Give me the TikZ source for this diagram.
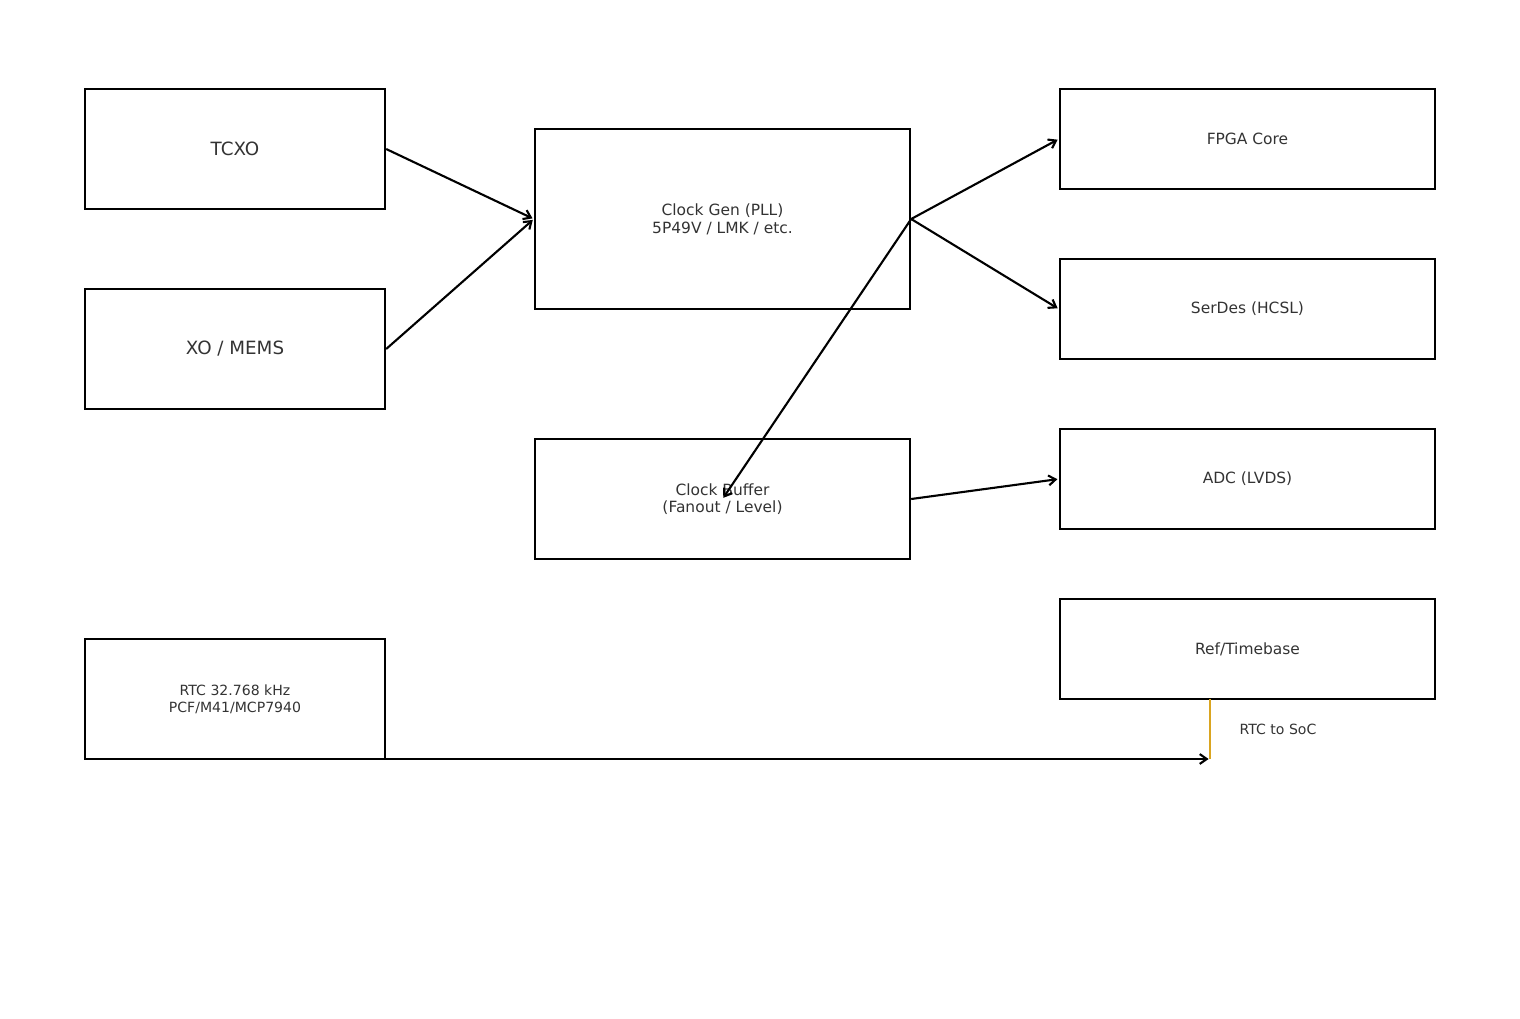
\documentclass[tikz,border=0pt]{standalone}
\usepackage{fontspec}
\setmainfont{DejaVu Sans}
\usepackage{tikz}
\usetikzlibrary{arrows.meta}
\definecolor{txt}{HTML}{333333}
\definecolor{tap}{HTML}{DAA520}

\begin{document}
\begin{tikzpicture}
  [x=0.025cm,y=-0.025cm,
   every node/.style={text=txt,align=center},
   blk/.style={draw=black,line width=1.6pt,rectangle,inner sep=0pt},
   src/.style={blk,minimum width=7.5cm,minimum height=3cm,font=\fontsize{13}{15.5}\selectfont},
   mid/.style={blk,minimum width=9.375cm,font=\fontsize{11}{12.6}\selectfont},
   dst/.style={blk,minimum width=9.375cm,minimum height=2.5cm,font=\fontsize{11}{12.6}\selectfont},
   wire/.style={line width=1.5pt,-{Straight Barb[length=5pt,width=7pt]},shorten >=1pt}]

  \useasboundingbox (0,0) rectangle (1520,1019);

  % sources
  \node[src] (tcxo) at (235,149) {TCXO};
  \node[src] (xo) at (235,349) {XO / MEMS};
  \node[src,font=\fontsize{10}{12.3}\selectfont] (rtc) at (235,699) {RTC 32.768 kHz\\PCF/M41/MCP7940};

  % clock tree
  \node[mid,minimum height=4.5cm] (pll) at (722.5,219) {Clock Gen (PLL)\\5P49V / LMK / etc.};
  \node[mid,minimum height=3cm] (buf) at (722.5,499) {Clock Buffer\\(Fanout / Level)};

  % loads
  \node[dst] (fpga) at (1247.5,139) {FPGA Core};
  \node[dst] (serdes) at (1247.5,309) {SerDes (HCSL)};
  \node[dst] (adc) at (1247.5,479) {ADC (LVDS)};
  \node[dst] (ref) at (1247.5,649) {Ref/Timebase};

  \coordinate (reftap) at (1210,699);
  \coordinate (soc) at (1210,759);

  \foreach \from/\to in {tcxo.east/pll.west,xo.east/pll.west,pll.east/fpga.west,pll.east/serdes.west,pll.east/buf.center,buf.east/adc.west,rtc.center |- soc/soc}
    \draw[wire] (\from) -- (\to);

  \draw[tap,line width=1.5pt] (reftap) -- (soc);
  \node[font=\fontsize{10}{12}\selectfont] (soclbl) at (1278,729) {RTC to SoC};
\end{tikzpicture}
\end{document}
